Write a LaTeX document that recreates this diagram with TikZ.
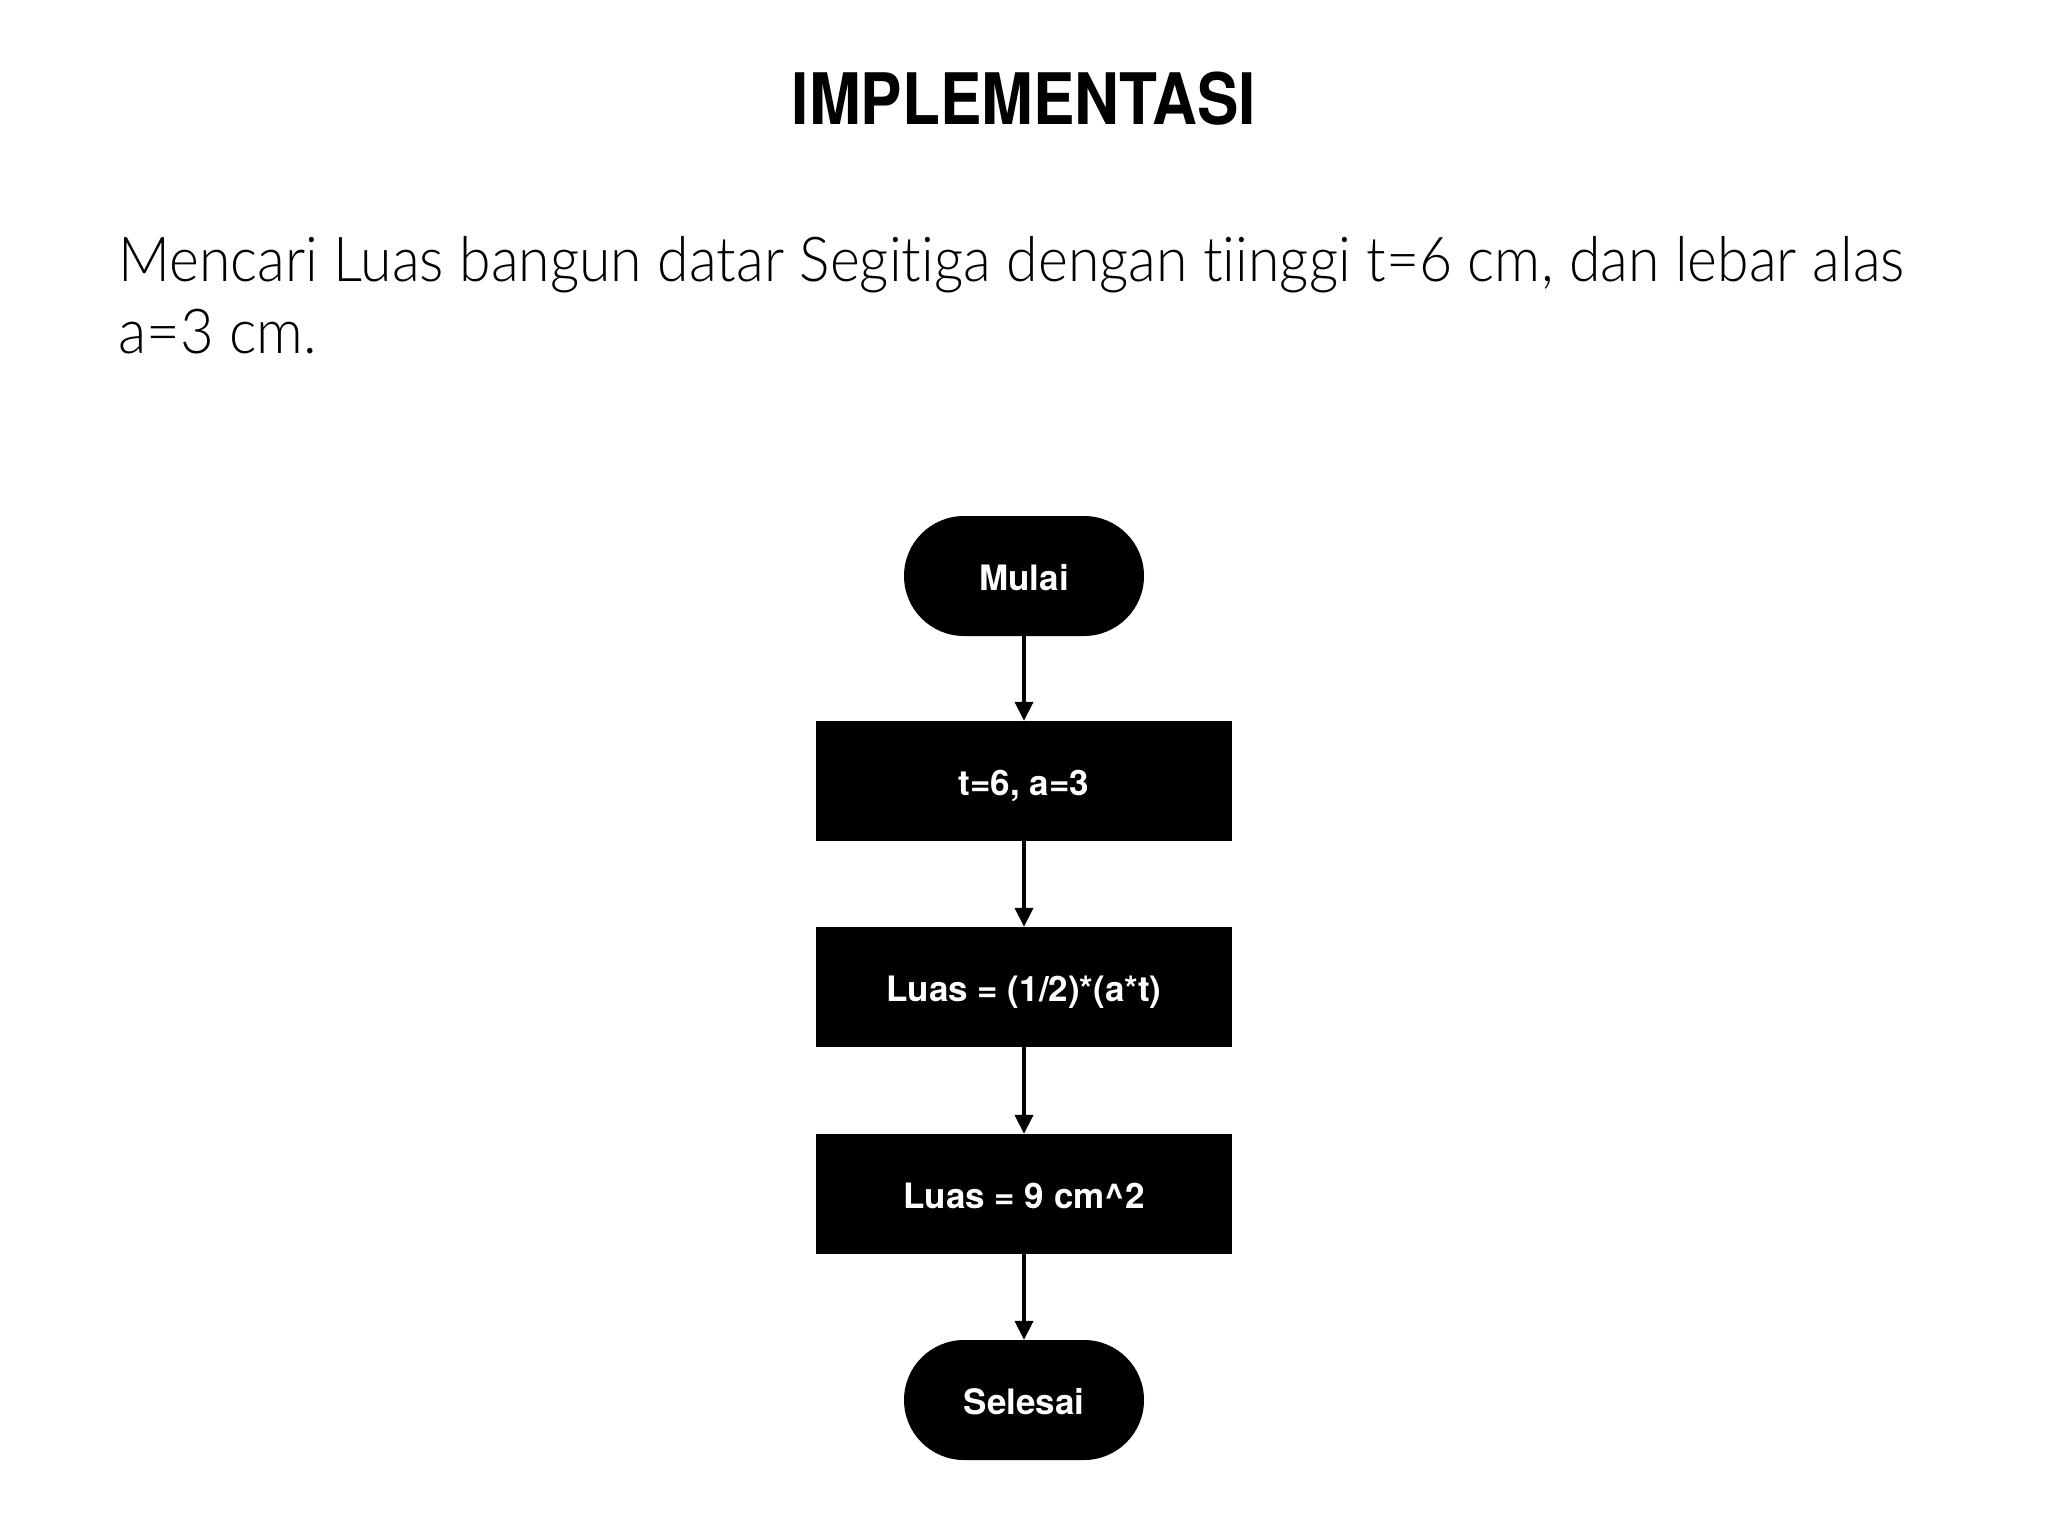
\documentclass[tikz,border=0pt]{standalone}
\usepackage{fontspec}
\setmainfont{TeX Gyre Heros}
\newfontfamily\lightfont{Lato Light}[Ligatures={NoCommon,NoRare,NoContextual}]
\usetikzlibrary{arrows.meta}
\tikzset{
  x=1pt, y=-1pt,
  labelfont/.style={font=\fontsize{35}{40}\selectfont\bfseries, text height=25pt, text depth=0pt},
  terminal/.style={fill=black, text=white, rounded corners=60pt, minimum width=240pt, minimum height=120pt, inner sep=0pt, labelfont},
  procbox/.style={fill=black, text=white, minimum width=416pt, minimum height=120pt, inner sep=0pt, labelfont},
  flow/.style={line width=4pt, -{Triangle[width=18pt,length=19pt]}},
  txt/.style={inner sep=0pt, text=black}
}
\newcommand{\lowered}[1]{\raisebox{-2pt}{#1}}
\begin{document}
\begin{tikzpicture}
\useasboundingbox (0,0) rectangle (2048,1536);
\fill[white] (0,0) rectangle (2048,1536);
\node[txt, anchor=base, font=\fontsize{71}{80}\selectfont\bfseries] (title) at (1024,125) {\scalebox{0.875}[1]{IMPLEMENTASI}};
\node[txt, anchor=base west, font=\fontsize{62}{70}\selectfont\lightfont] (line1) at (118,281) {\resizebox{1786pt}{\height}{Mencari Luas bangun datar Segitiga dengan tiinggi t=6 cm, dan lebar alas}};
\node[txt, anchor=base west, font=\fontsize{62}{70}\selectfont\lightfont] (line2) at (118,353) {\resizebox{199pt}{\height}{a=3 cm.}};
\node[terminal] (mulai) at (1024,576) {\lowered{Mulai}};
\node[procbox] (input) at (1024,781) {\lowered{t=6, a=3}};
\node[procbox] (hitung) at (1024,987) {\lowered{Luas = (1/2)*(a*t)}};
\node[procbox] (hasil) at (1024,1194) {\lowered{Luas = 9 cm\textasciicircum 2}};
\node[terminal] (selesai) at (1024,1400) {\lowered{Selesai}};
\draw[flow] (mulai) -- (input);
\draw[flow] (input) -- (hitung);
\draw[flow] (hitung) -- (hasil);
\draw[flow] (hasil) -- (selesai);
\end{tikzpicture}
\end{document}
